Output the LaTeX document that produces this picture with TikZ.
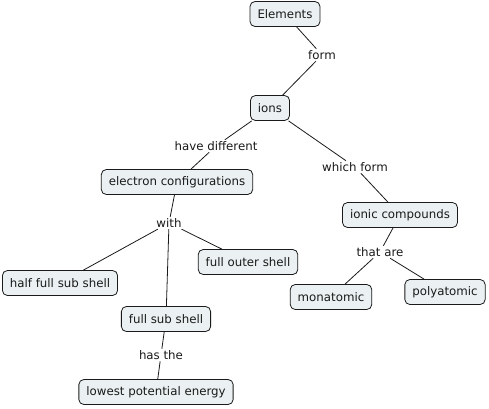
\documentclass[tikz,border=0pt]{standalone}
\usepackage{fontspec}
\setmainfont{DejaVu Sans}
\usepackage{tikz}
\usetikzlibrary{positioning}
\definecolor{boxfill}{HTML}{EBF1F2}
\definecolor{linecol}{HTML}{1A1A1A}
\tikzset{
	concept/.style={draw=linecol, line width=0.8pt, fill=boxfill, rounded corners=5pt, minimum height=25pt, inner xsep=7.5pt, inner ysep=0pt, font=\fontsize{11.8}{14}\selectfont, text=linecol},
	linkword/.style={fill=white, inner sep=1.5pt, font=\fontsize{11.8}{14}\selectfont, text=linecol},
	link/.style={draw=linecol, line width=0.8pt}
}
\begin{document}
\begin{tikzpicture}[x=1pt, y=-1pt]
				\useasboundingbox (0,0) rectangle (489,408);
				\node[concept] (elem) at (285,14) {Elements};
				\node[concept] (ions) at (270,108) {ions};
				\node[concept] (econf) at (177,182) {electron configurations};
				\node[concept] (ionic) at (400,215) {ionic compounds};
				\node[concept] (outer) at (248,262) {full outer shell};
				\node[concept] (half) at (60,283) {half full sub shell};
				\node[concept] (fullsub) at (166,319) {full sub shell};
				\node[concept] (lowest) at (156,392) {lowest potential energy};
				\node[concept] (mono) at (331,297) {monatomic};
				\node[concept] (poly) at (445,292) {polyatomic};
				\node[linkword] (form) at (322,55) {form};
				\node[linkword] (havediff) at (216,146) {have different};
				\node[linkword] (whichform) at (355,167) {which form};
				\node[linkword] (with) at (169,223) {with};
				\node[linkword] (hasthe) at (161,355) {has the};
				\node[linkword] (thatare) at (380,252) {that are};
				\draw[link] (elem) -- (form) -- (ions);
				\draw[link] (ions) -- (havediff) -- (econf);
				\draw[link] (ions) -- (whichform) -- (ionic);
				\draw[link] (econf) -- (with);
				\draw[link] (with) -- (half);
				\draw[link] (with) -- (outer);
				\draw[link] (with) -- (fullsub);
				\draw[link] (fullsub) -- (hasthe) -- (lowest);
				\draw[link] (ionic) -- (thatare) -- (mono);
				\draw[link] (thatare) -- (poly);
			\end{tikzpicture}
\end{document}
